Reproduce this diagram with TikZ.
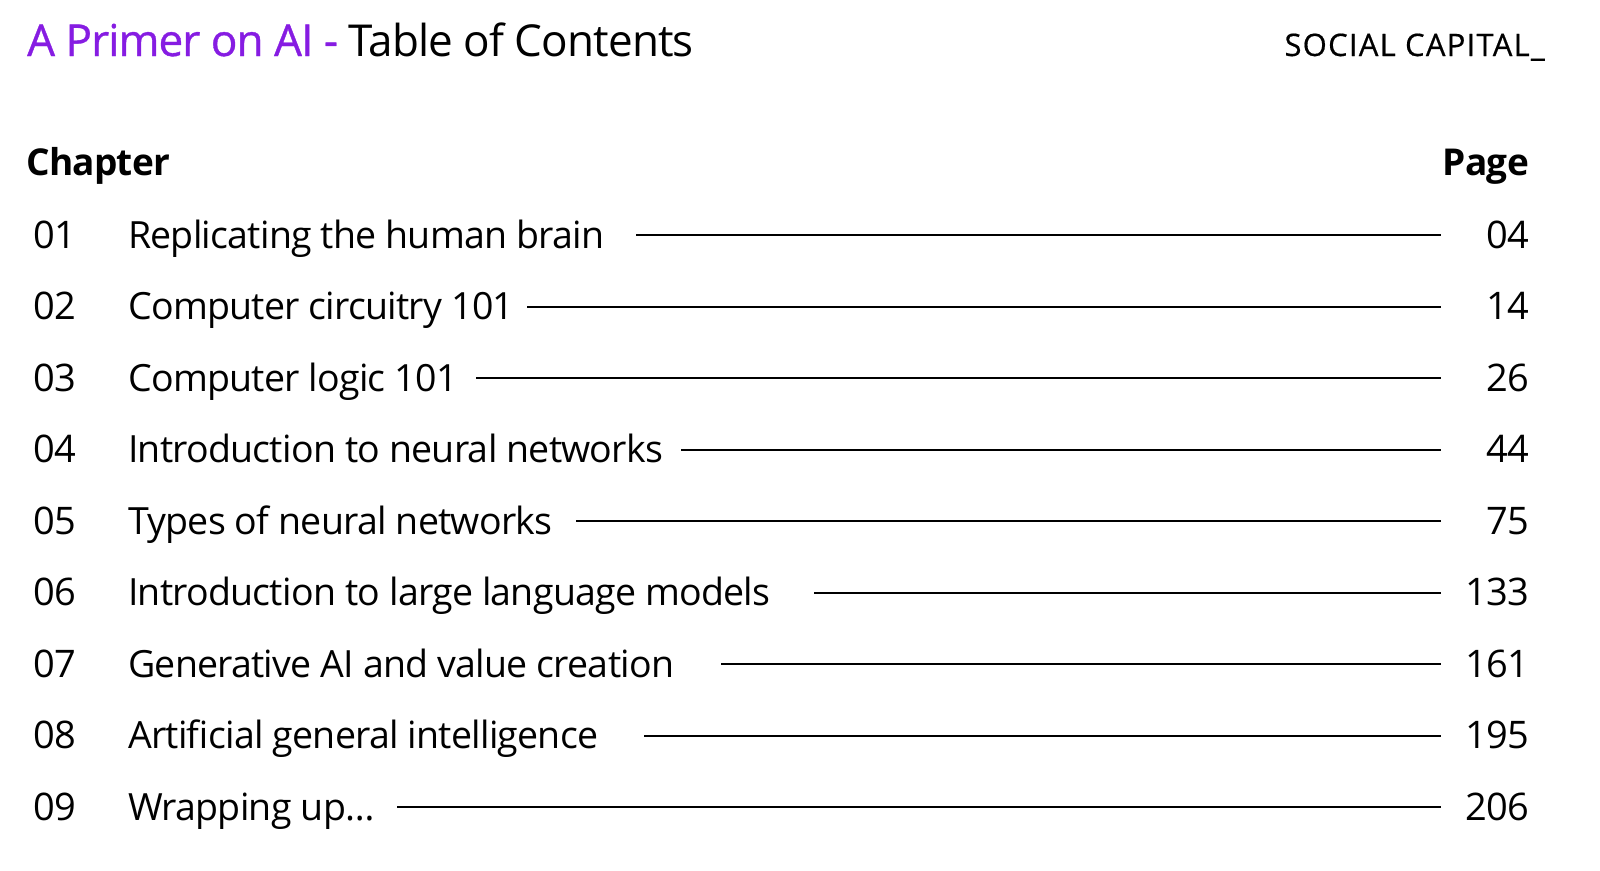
\documentclass[tikz,border=0pt]{standalone}
\usepackage{fontspec}
\setmainfont{Open Sans}
\definecolor{purp}{RGB}{134,28,226}
\begin{document}
\begin{tikzpicture}[x=1pt,y=-1pt,
  num/.style={anchor=base west,inner sep=0pt,font=\fontsize{38}{40}\selectfont\addfontfeatures{LetterSpace=-2}},
  ttl/.style={anchor=base west,inner sep=0pt,font=\fontsize{37.5}{40}\selectfont\addfontfeatures{LetterSpace=-2}},
  pg/.style={anchor=base east,inner sep=0pt,font=\fontsize{38}{40}\selectfont\addfontfeatures{LetterSpace=-2}},
  leader/.style={line width=2pt}]
\useasboundingbox (0,0) rectangle (1600,870);
\node[anchor=base west,inner sep=0pt,font=\fontsize{44}{46}\selectfont\addfontfeatures{LetterSpace=-2}] (title) at (27,56) {\textcolor{purp}{\addfontfeatures{FakeBold=0.8}A Primer on AI -} Table of Contents};
\node[anchor=base east,inner sep=0pt,font=\fontsize{31}{33}\selectfont\addfontfeatures{LetterSpace=4,FakeBold=0.5}] (brand) at (1545,56) {SOCIAL CAPITAL\_};
\node[anchor=base west,inner sep=0pt,font=\bfseries\fontsize{37}{40}\selectfont\addfontfeatures{LetterSpace=-2}] (chap) at (26,175) {Chapter};
\node[anchor=base east,inner sep=0pt,font=\bfseries\fontsize{37}{40}\selectfont\addfontfeatures{LetterSpace=-2}] (page) at (1529,175) {Page};
\foreach \i/\t/\p/\s [count=\k] in {
 01/{Replicating the human brain}/04/636,
 02/{Computer circuitry 101}/14/527,
 03/{Computer logic 101}/26/476,
 04/{Introduction to neural networks}/44/681,
 05/{Types of neural networks}/75/576,
 06/{Introduction to large language models}/133/814,
 07/{Generative AI and value creation}/161/721,
 08/{Artificial general intelligence}/195/644,
 09/{Wrapping up\ldots}/206/397}{
  \pgfmathsetmacro{\yy}{234+71.5*(\k-1)}
  \node[num] (n\k) at (33,\yy+14) {\i};
  \node[ttl] (t\k) at (128,\yy+14) {\t};
  \node[pg] (p\k) at (1529,\yy+14) {\p};
  \coordinate (s\k) at (\s,\yy+1);
  \coordinate (e\k) at (1441,\yy+1);
  \draw[leader] (s\k) -- (e\k);
}
\end{tikzpicture}
\end{document}
